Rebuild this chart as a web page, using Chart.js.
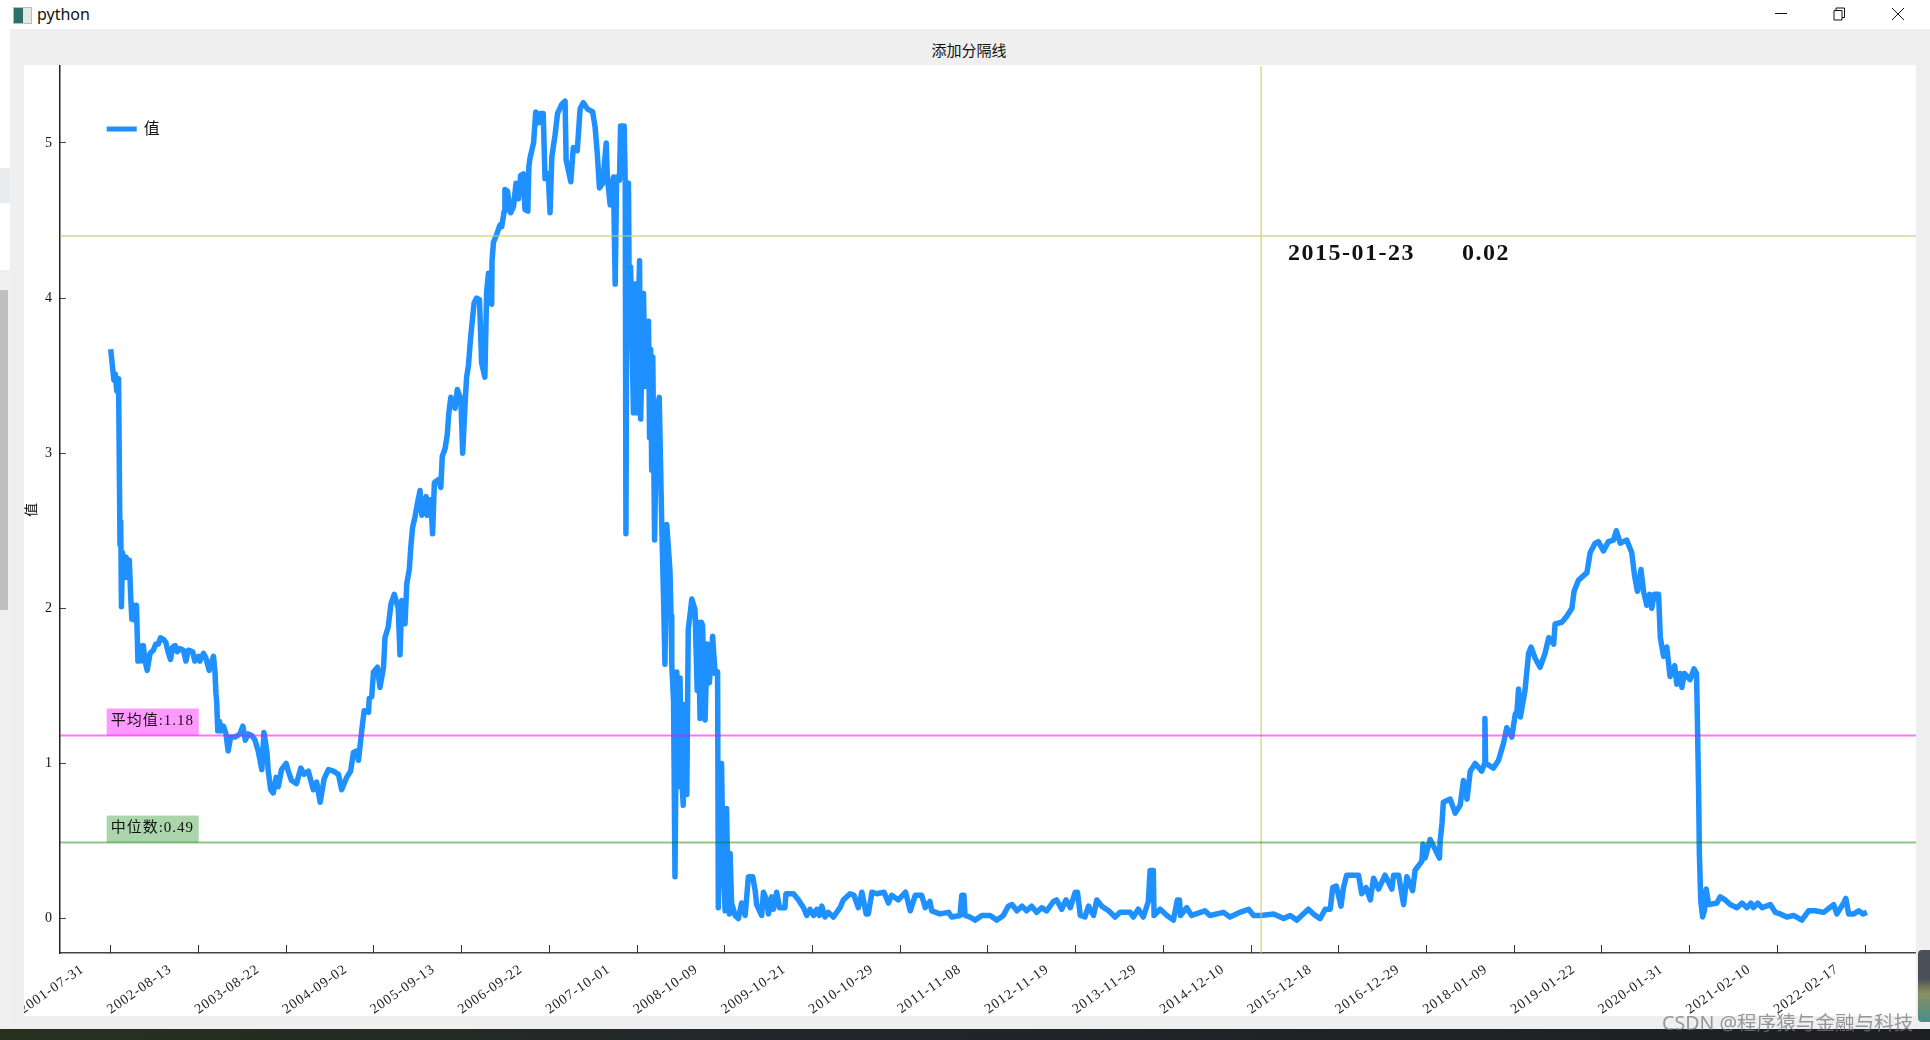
<!DOCTYPE html>
<html>
<head>
<meta charset="utf-8">
<title>python</title>
<script src="https://cdn.jsdelivr.net/npm/chart.js@4"></script>
<style>
    html, body { margin: 0; padding: 0; background: #fff; overflow: hidden; }
    #win { position: absolute; left: 0; top: 0; width: 1930px; height: 1040px; overflow: hidden; background: #fff; font-family: "Noto Sans", "Noto Sans CJK SC", sans-serif; }
    #win div, #win svg, #win canvas { position: absolute; }
    #icon { left: 13px; top: 7px; width: 17px; height: 15px; border: 1px solid #bbb; background: linear-gradient(90deg, #2f6f6a 55%, #e4e8e4 55%); }
    #appName { left: 37px; top: 3px; font-size: 16px; color: #111; }
    #frame { left: 10px; top: 29px; width: 1920px; height: 1000px; background: #efefef; }
    #leftStrip { left: 0; top: 270px; width: 10px; height: 759px; background: #f0f0f0; }
    #leftTab { left: 0; top: 168px; width: 10px; height: 35px; background: #e8ecef; }
    #thumb { left: 0; top: 290px; width: 8px; height: 320px; background: #c0c0c0; }
    #panelTitle { left: 0; top: 39px; width: 1938px; text-align: center; font-size: 15px; color: #111; }
    #panel { left: 24px; top: 65px; width: 1892px; height: 951px; background: #fff; }
    #taskbar { left: 0; top: 1029px; width: 1930px; height: 11px; background: linear-gradient(90deg, #27301f, #22262a 40%, #1d1f22); }
    #meter { left: 1918px; top: 950px; width: 12px; height: 72px; border-radius: 4px 0 0 4px; background: linear-gradient(180deg, #4a5058 40%, #8a8f60 60%, #4f8f88 95%); }
    #mark { left: 1662px; top: 1007px; font-size: 19.6px; color: rgba(120, 120, 120, .75); white-space: nowrap; }
</style>
</head>
<body>
<div id="win">
    <div id="icon"></div>
    <div id="appName">python</div>
    <svg style="left:1770px;top:4px" width="140" height="20" fill="none" stroke="#111" stroke-width="1">
        <path d="M5 9.5H17"/>
        <path d="M64 6.5H72V16H64ZM66 6.5V4H74.5V13.5H72"/>
        <path d="M122 4L134 16M134 4L122 16"/>
    </svg>
    <div id="frame"></div>
    <div id="leftTab"></div>
    <div id="leftStrip"></div>
    <div id="thumb"></div>
    <div id="panelTitle">添加分隔线</div>
    <div id="panel"><canvas id="chart" width="1892" height="951" style="left:0;top:0"></canvas></div>
    <div id="meter"></div>
    <div id="taskbar"></div>
    <div id="mark">CSDN @程序猿与金融与科技</div>
</div>

<script>
// trading day number, value
var tradingDay = [
    0,4,9,13,17,22,26,28,30,33,37,43,46,52,56,59,65,69,72,76,
    80,84,91,96,102,110,119,126,133,139,147,154,160,167,173,180,186,193,203,210,
    217,229,235,245,249,259,266,275,287,291,294,296,299,304,308,315,322,328,335,347,
    361,369,376,384,394,403,412,422,428,436,440,447,454,462,468,477,490,496,505,519,
    531,540,552,566,575,585,596,608,622,636,645,659,670,678,687,692,
    701,708,720,722,729,734,745,752,762,766,775,783,792,803,808,813,822,827,834,838,
    843,850,857,864,869,881,884,894,899,904,915,922,926,934,940,944,950,962,968,978,
    983,990,994,999,1005,1015,1022,1030,1032,1036,1045,1050,1055,1064,1065,1069,1078,1087,
    1092,1099,1101,1108,1117,1125,1132,1139,1145,1153,1157,1165,1168,1171,1181,1187,1195,1199,1208,1213,
    1222,1227,1232,1241,1248,1260,1269,1272,1285,1292,1303,1311,1320,1331,1346,1353,1359,1365,1374,1384,
    1387,1395,1404,1409,1413,1421,1424,1434,1437,1439,1442,1446,1449,1452,1460,1464,1467,1477,1480,1488,
    1493,1502,1505,1508,1511,1514,1519,1525,1532,1539,1544,1548,1553,1562,1565,1567,1572,1576,1581,1585,
    1590,1595,1599,1604,1609,1613,1623,1632,1638,1641,1646,1650,1653,1660,1666,1672,1681,1688,1695,1697,
    1706,1709,1716,1720,1724,1728,1730,1734,1744,1753,1762,1772,1781,1793,1800,1804,1818,1823,1832,1837,
    1846,1851,1860,1868,1883,1886,1907,1921,1935,1944,1953,1963,1972,1979,1986,1995,2004,2018,2037,2046,
    2065,2076,2088,2098,2110,2116,2126,2139,2160,2172,2181,2200,2220,2233,2247,2265,2275,2288,2293,2316,
    2340,2349,2372,2377,2383,2386,2400,2414,2433,2456,2475,2493,2507,2517,2531,2545,2558,2572,2586,2600,
    2614,2633,2642,2656,2668,2680,2694,2700,2708,2721,2731,2745,2754,2768,2787,2805,2819,2847,2856,2870,
    2884,2898,2903,2912,2914,2931,2950,2968,2979,2985,2988,3005,3019,3056,3070,3108,3126,3154,3178,3192,
    3213,3248,3276,3294,3313,3345,3364,3378,3392,3406,3413,3423,3436,3443,3452,3485,3494,3506,3518,3527,
    3541,3559,3578,3583,3597,3611,3620,3636,3643,3662,3665,3671,3685,3694,3711,3713,3718,3722,3741,3755,
    3769,3778,3788,3797,3811,3829,3837,3838,3840,3862,3876,3890,3899,3913,3923,3927,3932,3937,3950,3960,
    3967,3978,3992,4006,4016,4030,4034,4053,4067,4081,4087,4099,4123,4132,4146,4155,4169,4183,4197,4205,
    4216,4234,4248,4256,4264,4274,4281,4290,4298,4304,4311,4323,4328,4337,4346,4355,4368,4374,4383,4388,
    4395,4411,4422,4429,4431,4435,4437,4441,4446,4451,4456,4463,4486,4495,4509,4523,4542,4556,4570,4581,
    4588,4600,4612,4635,4649,4663,4681,4700,4723,4742,4761,4784,4812,4821,4840,4846,4854,4868,4882,4894,4905
];
var seriesValues = [
    3.67,3.58,3.47,3.51,3.40,3.48,2.41,2.56,2.01,2.36,2.20,2.33,2.20,2.31,2.07,1.93,2.02,1.92,2.02,1.66,
    1.76,1.66,1.76,1.66,1.60,1.71,1.73,1.77,1.77,1.81,1.80,1.78,1.72,1.67,1.75,1.76,1.72,1.74,1.73,1.66,
    1.73,1.72,1.66,1.69,1.66,1.71,1.68,1.60,1.69,1.60,1.45,1.40,1.21,1.27,1.21,1.24,1.19,1.08,1.17,1.17,
    1.19,1.24,1.15,1.19,1.18,1.15,1.08,.96,1.20,1.08,.95,.83,.81,.91,.85,.96,1.00,.95,.89,.87,
    .97,.93,.95,.83,.88,.75,.90,.96,.95,.93,.83,.91,.95,1.07,1.08,1.02,
    1.21,1.34,1.33,1.42,1.43,1.59,1.62,1.49,1.62,1.81,1.88,2.03,2.09,2.00,1.70,2.05,1.90,2.16,2.25,2.39,
    2.52,2.59,2.68,2.76,2.60,2.72,2.60,2.70,2.48,2.81,2.83,2.78,2.98,3.03,3.12,3.25,3.36,3.29,3.41,3.35,
    3.00,3.33,3.49,3.56,3.74,3.97,4.00,3.99,3.85,3.58,3.49,4.04,4.16,3.96,4.24,4.36,4.41,4.47,
    4.46,4.56,4.70,4.69,4.55,4.59,4.74,4.64,4.79,4.80,4.57,4.56,4.85,4.90,5.00,5.20,5.13,5.19,5.19,4.77,
    4.80,4.55,4.91,5.05,5.19,5.25,5.27,4.89,4.75,4.97,4.95,5.22,5.26,5.22,5.20,5.10,4.93,4.71,4.74,5.00,
    4.78,4.60,4.78,4.09,4.78,4.76,5.11,5.11,4.75,2.48,4.40,4.74,3.73,4.20,3.26,4.09,3.26,4.24,3.22,4.03,
    3.43,3.85,3.10,3.67,2.89,3.62,2.44,3.26,3.36,2.54,2.07,1.64,2.54,2.24,1.95,1.64,1.40,.27,1.59,.85,
    1.55,.90,.73,1.38,.80,1.86,2.06,1.99,1.47,1.91,1.29,1.91,1.89,1.28,1.77,1.52,1.82,1.58,1.59,.07,
    1.00,.55,.05,.71,.20,.03,.42,.10,.02,.00,.10,.02,.27,.27,.18,.09,.02,.17,.12,.03,
    .14,.06,.17,.07,.07,.16,.16,.12,.07,.02,.06,.02,.06,.02,.08,.01,.04,.01,.07,.12,
    .16,.15,.07,.17,.03,.03,.17,.16,.17,.10,.15,.12,.17,.05,.15,.15,.07,.11,.05,.03,
    .04,.01,.02,.15,.15,.02,.01,-.01,.02,.02,-.01,.02,.08,.09,.05,.08,.05,.08,.04,.07,
    .05,.11,.12,.06,.12,.07,.17,.17,.02,.01,.08,.02,.12,.08,.05,.01,.04,.04,.01,.06,
    .01,.11,.31,.31,.02,.06,.02,-.01,.12,.12,.02,.07,.02,.05,.02,.04,.01,.04,.06,.02,
    .02,.03,.00,.02,-.01,.06,.02,.00,.06,.06,.20,.21,.08,.20,.28,.28,.16,.20,.12,.26,
    .19,.28,.19,.28,.28,.09,.27,.18,.31,.37,.48,.39,.51,.47,.39,.50,.61,.75,.77,.68,
    .73,.89,.77,.95,1.00,.95,1.00,1.29,1.00,.97,1.02,1.13,1.23,1.17,1.32,1.32,1.48,1.30,1.47,1.71,
    1.75,1.68,1.62,1.71,1.81,1.77,1.90,1.91,1.95,2.00,2.11,2.18,2.23,2.36,2.42,2.43,2.37,2.43,2.44,2.50,
    2.42,2.44,2.36,2.21,2.11,2.25,2.11,2.02,2.09,2.00,2.09,2.09,1.81,1.69,1.75,1.56,1.63,1.51,1.58,1.49,
    1.58,1.54,1.61,1.58,1.34,.80,.42,.11,.01,.05,.19,.09,.10,.14,.12,.09,.07,.10,.07,.10,
    .07,.10,.07,.09,.04,.03,.01,.02,-.01,.05,.05,.04,.09,.03,.10,.13,.03,.03,.05,.03,.04
];

var xTickDays = [0,245,490,735,980,1225,1470,1715,1960,2205,2450,2695,2940,3185,3430,3675,3920,4165,4410,4655,4900];
var xTickLabels = ['2001-07-31','2002-08-13','2003-08-22','2004-09-02','2005-09-13','2006-09-22','2007-10-01',
    '2008-10-09','2009-10-21','2010-10-29','2011-11-08','2012-11-19','2013-11-29','2014-12-10','2015-12-18',
    '2016-12-29','2018-01-09','2019-01-22','2020-01-31','2021-02-10','2022-02-17'];
var yTickValues = [0,1,2,3,4,5];

var meanValue = 1.18;
var medianValue = 0.49;
var crossDay = 3213;
var crossValue = 4.40;
var crossDate = '2015-01-23';
var crossText = '0.02';

var xMin = -141.6, xMax = 5042;
var yMin = -0.222, yMax = 5.496;
var serifFont = '"Liberation Serif", "Noto Sans CJK SC", serif';

function flatLine(v) { return [{ x: xMin, y: v }, { x: xMax, y: v }]; }

// legend, mean/median tags and the crosshair readout
var overlayPlugin = {
    id: 'overlay',
    beforeDraw: function (chart) {
        chart.ctx.letterSpacing = '1px';
    },
    afterDatasetsDraw: function (chart) {
        var c = chart.ctx, sx = chart.scales.x, sy = chart.scales.y;
        var tagLeft = sx.getPixelForValue(0) - 4;

        function tag(text, value, fill) {
            var bottom = sy.getPixelForValue(value);
            c.fillStyle = fill;
            c.fillRect(tagLeft, bottom - 27, 92, 27);
            c.fillStyle = '#111';
            c.font = '15px ' + serifFont;
            c.textAlign = 'left';
            c.textBaseline = 'middle';
            c.fillText(text, tagLeft + 4, bottom - 14);
        }

        c.save();
        tag('平均值:' + meanValue.toFixed(2), meanValue, 'rgba(255,0,255,.4)');
        tag('中位数:' + medianValue.toFixed(2), medianValue, 'rgba(0,128,0,.33)');

        // legend
        c.strokeStyle = chart.data.datasets[0].borderColor;
        c.lineWidth = 5;
        c.beginPath();
        c.moveTo(tagLeft, 64);
        c.lineTo(tagLeft + 30, 64);
        c.stroke();
        c.fillStyle = '#111';
        c.font = '16px ' + serifFont;
        c.fillText(chart.data.datasets[0].label, tagLeft + 37, 64.5);

        // crosshair readout
        var rx = sx.getPixelForValue(crossDay), ry = sy.getPixelForValue(crossValue);
        c.font = 'bold 24px ' + serifFont;
        c.letterSpacing = '1.5px';
        c.fillText(crossDate, rx + 27, ry + 18);
        c.fillText(crossText, rx + 201, ry + 18);
        c.restore();
    }
};

document.addEventListener('DOMContentLoaded', function () {
    var ctx = document.getElementById('chart').getContext('2d');

    new Chart(ctx, {
        type: 'line',
        plugins: [overlayPlugin],
        data: {
            datasets: [
                {
                    label: '值',
                    data: tradingDay.map(function (d, i) { return { x: d, y: seriesValues[i] }; }),
                    borderColor: '#1e90ff',
                    borderWidth: 5.5,
                    borderJoinStyle: 'round',
                    pointRadius: 0,
                    tension: 0,
                    order: 2
                },
                { label: '平均值', data: flatLine(meanValue), borderColor: 'rgba(255,0,255,.55)', borderWidth: 2, pointRadius: 0, order: 1 },
                { label: '中位数', data: flatLine(medianValue), borderColor: 'rgba(0,128,0,.45)', borderWidth: 2, pointRadius: 0, order: 1 },
                { label: 'h', data: flatLine(crossValue), borderColor: 'rgba(200,200,110,.55)', borderWidth: 2, pointRadius: 0, order: 1 },
                { label: 'v', data: [{ x: crossDay, y: yMin }, { x: crossDay, y: yMax }], borderColor: 'rgba(200,200,110,.55)', borderWidth: 2, pointRadius: 0, order: 1 }
            ]
        },
        options: {
            responsive: false,
            animation: false,
            parsing: false,
            layout: { padding: { top: 1, left: 0, right: 0, bottom: 0 } },
            plugins: { legend: { display: false }, tooltip: { enabled: false } },
            scales: {
                x: {
                    type: 'linear',
                    min: xMin,
                    max: xMax,
                    afterBuildTicks: function (s) { s.ticks = xTickDays.map(function (d) { return { value: d }; }); },
                    afterFit: function (s) { s.height = 63; },
                    border: { display: true, color: '#444', width: 1.5 },
                    grid: { drawOnChartArea: false, drawTicks: true, tickLength: -8, color: '#333' },
                    ticks: {
                        autoSkip: false,
                        minRotation: 35,
                        maxRotation: 35,
                        padding: 16,
                        labelOffset: -28,
                        color: '#222',
                        font: { family: serifFont, size: 14 },
                        callback: function (v) { return xTickLabels[xTickDays.indexOf(v)]; }
                    }
                },
                y: {
                    min: yMin,
                    max: yMax,
                    afterBuildTicks: function (s) { s.ticks = yTickValues.map(function (v) { return { value: v }; }); },
                    afterFit: function (s) { s.width = 36; s.paddingTop = 0; s.paddingBottom = 0; },
                    border: { display: true, color: '#222', width: 1.5 },
                    grid: { drawOnChartArea: false, drawTicks: true, tickLength: -6, color: '#444' },
                    title: { display: true, text: '值', color: '#111', padding: 0, font: { family: serifFont, size: 14 } },
                    ticks: {
                        padding: 13,
                        color: '#111',
                        font: { family: serifFont, size: 14 },
                        callback: function (v) { return String(v); }
                    }
                }
            }
        }
    });
});
</script>
</body>
</html>
